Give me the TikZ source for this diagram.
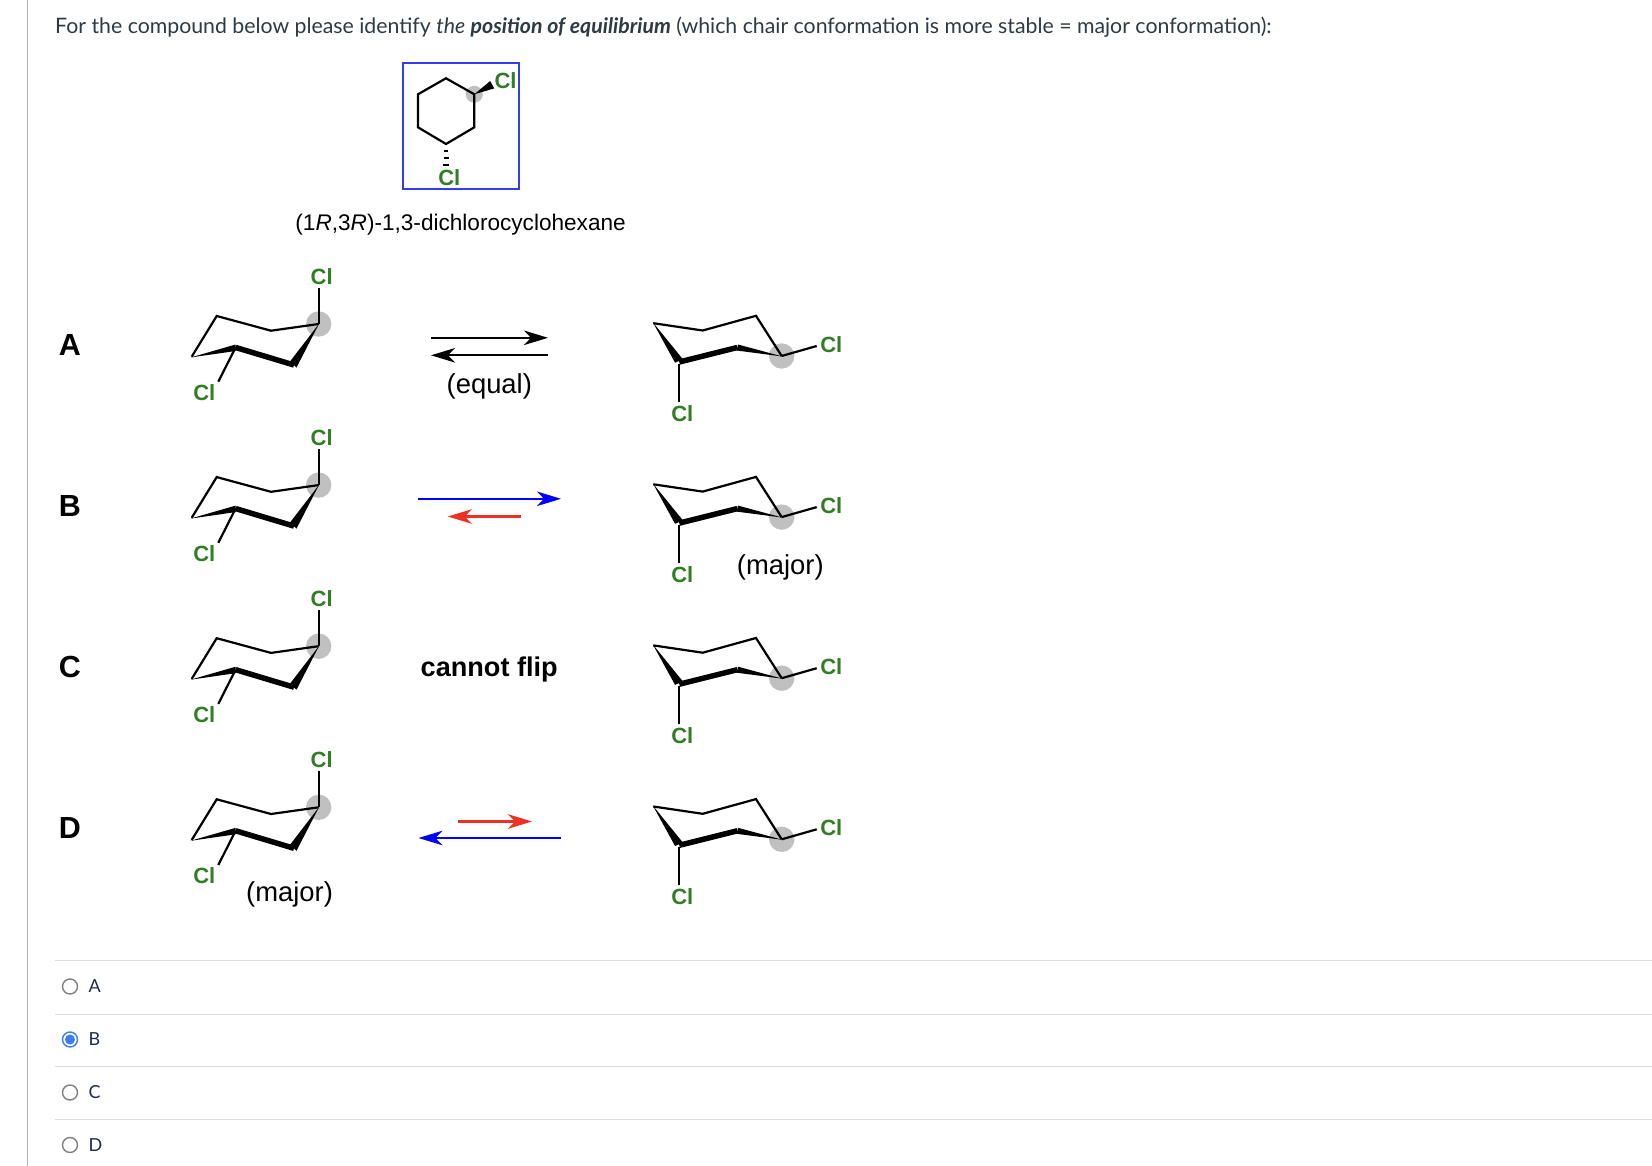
\documentclass[tikz,border=0pt]{standalone}
\usepackage{fontspec}
\setmainfont{Liberation Sans}
\newfontfamily\latofont{Lato}
\usetikzlibrary{arrows.meta}
\definecolor{clgreen}{RGB}{50,125,38}
\definecolor{spotgray}{RGB}{192,192,192}
\definecolor{titlenavy}{RGB}{45,59,69}
\definecolor{optnavy}{RGB}{30,45,80}
\definecolor{rulegray}{RGB}{221,221,221}
\definecolor{boxblue}{RGB}{50,60,240}
\definecolor{eqred}{RGB}{238,49,36}
\definecolor{radioblue}{RGB}{59,125,245}
\tikzset{
  bond/.style={line width=2.2pt,line join=miter},
  clatom/.style={text=clgreen,inner sep=0pt,font=\bfseries\fontsize{22}{22}\selectfont},
  spot/.style={circle,fill=spotgray,minimum size=25.4pt,inner sep=0pt},
  eqarrow/.style={line width=2.2pt,-{Stealth[length=24pt,width=14.5pt,inset=7pt]}},
  rowletter/.style={inner sep=0pt,font=\bfseries\fontsize{30.5}{31}\selectfont},
  note/.style={inner sep=0pt,font=\fontsize{27.4}{30}\selectfont},
  radio/.style={circle,draw=gray,line width=1.4pt,minimum size=15pt,inner sep=0pt},
  optlabel/.style={anchor=west,inner sep=0pt,text=optnavy,font=\latofont\fontsize{18}{18}\selectfont},
  optrule/.style={draw=rulegray,line width=1pt},
}
\begin{document}
\begin{tikzpicture}[x=1pt,y=-1pt]
    \useasboundingbox (0,0) rectangle (1652,1166);
    \fill[white] (0,0) rectangle (1652,1166);
    \draw[line width=1.5pt,draw=gray!60] (27.7,0)--(27.7,1166);
    \node[anchor=west,inner sep=0pt,text=titlenavy,font=\latofont\fontsize{21.28}{24}\selectfont] (title) at (55,27.5)
        {For the compound below please identify \textit{the} \textbf{\textit{position of equilibrium}} (which chair conformation is more stable = major conformation):};
    % top molecule
    \draw[line width=1.7pt,draw=boxblue] (402.7,63) rectangle (519,189);
    \node[circle,fill=spotgray,minimum size=17pt,inner sep=0pt] (topspot) at (474.3,94.3) {};
    \draw[bond] (474.3,94.3)--(474.3,127.3)--(446,144)--(418,127.3)--(418,94.3)--(446,78.3)--cycle;
    \fill (474.3,94.3)--(490.2,81)--(494.2,88.4)--cycle;
    \draw[line width=2pt] (444.3,151)--(447.7,151);
    \draw[line width=2pt] (443.5,157.6)--(448.5,157.6);
    \draw[line width=2pt] (442.7,165)--(449.3,165);
    \node[clatom] (topcla) at (505.6,80.5) {Cl};
    \node[clatom] (topclb) at (449.3,177.5) {Cl};
    \node[inner sep=0pt,font=\fontsize{22.6}{26}\selectfont] (name) at (460.6,225) {(1\textit{R},3\textit{R})-1,3-dichlorocyclohexane};
    % the four rows
    \foreach \row/\name in {0/A,1/B,2/C,3/D} {
        \begin{scope}[yshift=-161.1pt*\row]
            \node[rowletter] (letter\name) at (70,345) {\name};
            % left chair
            \node[spot] (spotl\name) at (318.7,324) {};
            \draw[bond] (191.7,356.7)--(216.7,316)--(271,330.7)--(318.7,324);
            \fill[black] (190.5,357.5)--(235.7,344.5)--(235.7,351)--cycle;
            \draw[line width=5.5pt] (235.7,347.5)--(294,365);
            \fill[black] (319.2,323.5)--(290,361.5)--(296.5,367.5)--cycle;
            \coordinate (endla\name) at (318.7,287.7);
            \coordinate (endlb\name) at (218.3,381.7);
            \draw[bond] (318.7,324)--(endla\name);
            \draw[bond] (235.7,347.3)--(endlb\name);
            \node[clatom] (clla\name) at (321.7,276.7) {Cl};
            \node[clatom] (cllb\name) at (204.3,392.5) {Cl};
            % right chair
            \node[spot] (spotr\name) at (781.7,356) {};
            \draw[bond] (653.3,323.2)--(702.7,330.5)--(756,315.8)--(781.7,356);
            \fill[black] (652.8,322.2)--(675,362.6)--(683,359.4)--cycle;
            \draw[line width=5.5pt] (679.3,362)--(737.3,347.5);
            \fill[black] (782.5,356.5)--(738,344.5)--(736.6,350.5)--cycle;
            \coordinate (endra\name) at (816.7,346);
            \coordinate (endrb\name) at (679.3,401.7);
            \draw[bond] (781.7,356)--(endra\name);
            \draw[bond] (679.3,364)--(endrb\name);
            \node[clatom] (clra\name) at (831.3,344.5) {Cl};
            \node[clatom] (clrb\name) at (682.3,413.8) {Cl};
        \end{scope}
    }
    % equilibrium arrows
    \coordinate (aone) at (431,337.8);
    \coordinate (atwo) at (548,337.8);
    \coordinate (athree) at (547.7,355.3);
    \coordinate (afour) at (431,355.3);
    \draw[eqarrow] (aone)--(atwo);
    \draw[eqarrow] (athree)--(afour);
    \node[note] (equal) at (489.3,386.5) {(equal)};
    \coordinate (bone) at (418.3,498.8);
    \coordinate (btwo) at (561,498.8);
    \coordinate (bthree) at (520.7,516.5);
    \coordinate (bfour) at (447.8,516.5);
    \draw[eqarrow,draw=blue,fill=blue] (bone)--(btwo);
    \draw[eqarrow,draw=eqred,fill=eqred] (bthree)--(bfour);
    \node[note,font=\bfseries\fontsize{27.1}{30}\selectfont] (cannot) at (489.2,669.5) {cannot flip};
    \coordinate (done) at (458,821.5);
    \coordinate (dtwo) at (532,821.5);
    \coordinate (dthree) at (560.7,838);
    \coordinate (dfour) at (418.5,838);
    \draw[eqarrow,draw=eqred,fill=eqred] (done)--(dtwo);
    \draw[eqarrow,draw=blue,fill=blue] (dthree)--(dfour);
    \node[note] (majorb) at (780.3,567.5) {(major)};
    \node[note] (majord) at (289.6,894) {(major)};
    % answer list
    \draw[optrule] (55,960.8)--(1652,960.8);
    \draw[optrule] (55,1014)--(1652,1014);
    \draw[optrule] (55,1066)--(1652,1066);
    \draw[optrule] (55,1119)--(1652,1119);
    \node[radio] (radioa) at (70,986.5) {};
    \node[radio,draw=radioblue] (radiob) at (70,1039.5) {};
    \node[circle,fill=radioblue,minimum size=10pt,inner sep=0pt] (radiodot) at (70,1039.5) {};
    \node[radio] (radioc) at (70,1092.5) {};
    \node[radio] (radiod) at (70,1145) {};
    \node[optlabel] (opta) at (88.5,986) {A};
    \node[optlabel] (optb) at (88.5,1039) {B};
    \node[optlabel] (optc) at (88.5,1092) {C};
    \node[optlabel] (optd) at (88.5,1145) {D};
\end{tikzpicture}
\end{document}
